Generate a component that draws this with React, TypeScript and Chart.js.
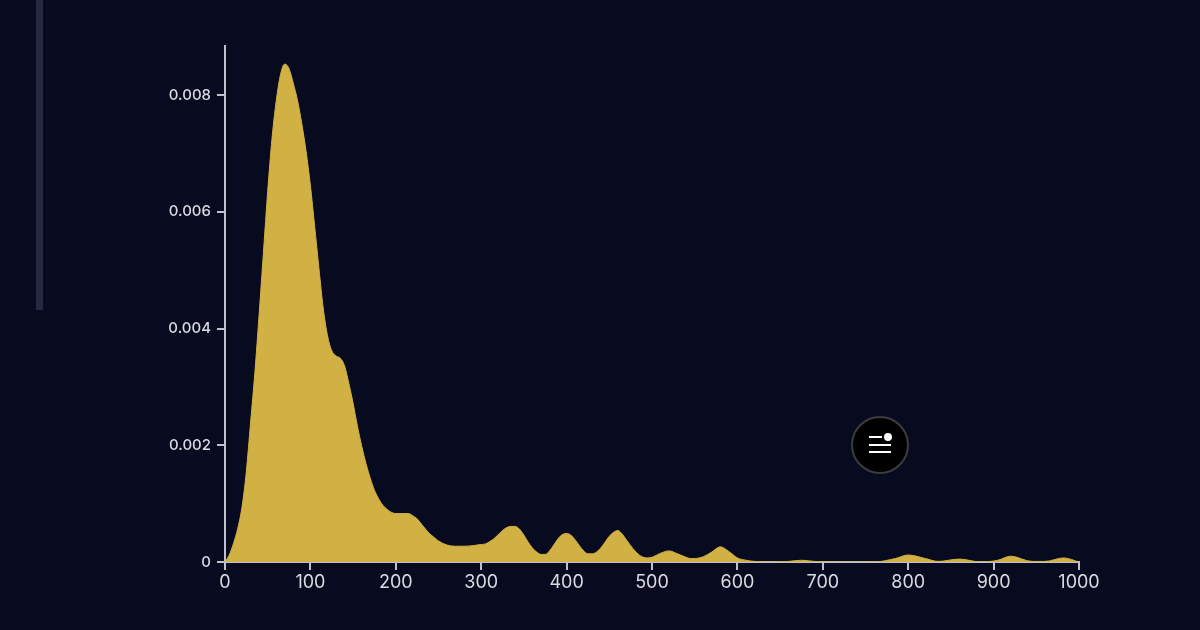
import React, { useEffect, useRef } from 'react';
import Chart from 'chart.js/auto';

const xValues = [
  0, 5, 10, 15, 20, 25, 30, 35, 40, 45, 50, 55, 60, 65, 70, 75, 80, 85, 90, 95, 100,
  105, 110, 115, 120, 125, 130, 135, 140, 145, 150, 155, 160, 165, 170, 175, 180, 185, 190, 195, 200,
  210, 215, 220, 225, 230, 235, 240, 245, 250, 260, 270, 280, 290, 300, 305, 310, 315, 320, 325, 330, 335, 340,
  345, 350, 355, 360, 365, 370, 375, 380, 385, 390, 395, 400, 405, 410, 415, 420, 425, 430, 435, 440, 445, 450,
  455, 460, 465, 470, 475, 480, 485, 490, 495, 500, 510, 520, 530, 540, 545, 550, 560, 570, 580, 590, 600, 610,
  620, 640, 660, 675, 690, 720, 760, 785, 800, 820, 835, 860, 885, 905, 920, 945, 960, 982, 1000,
];

const density = [
  0, 0.00012, 0.00032, 0.00058, 0.00095, 0.00155, 0.0024, 0.00325, 0.00425, 0.0053, 0.00635, 0.00725, 0.0079,
  0.00835, 0.00853, 0.00845, 0.0082, 0.0079, 0.0075, 0.00703, 0.00645,
  0.00575, 0.00503, 0.00435, 0.00388, 0.00362, 0.00353, 0.00349, 0.00336, 0.00306, 0.00272, 0.00233, 0.00199,
  0.00169, 0.00144, 0.00123, 0.00108, 0.00097, 0.0009, 0.00085, 0.00083,
  0.00083, 0.00083, 0.00079, 0.00074, 0.00065, 0.00056, 0.00048, 0.00042, 0.00036, 0.00029, 0.00027, 0.00027,
  0.00028, 0.0003, 0.00031, 0.00035, 0.0004, 0.00047, 0.00054, 0.00059, 0.00061, 0.00061,
  0.00056, 0.00046, 0.00034, 0.00024, 0.00017, 0.00013, 0.00013, 0.00019, 0.00029, 0.0004, 0.00047, 0.00049,
  0.00046, 0.00038, 0.00028, 0.00019, 0.00014, 0.00014, 0.00017, 0.00024, 0.00034, 0.00044,
  0.00051, 0.00054, 0.00048, 0.00038, 0.00028, 0.00019, 0.00012, 0.00008, 0.00007, 0.00008, 0.00015, 0.00019,
  0.00014, 0.00008, 0.00006, 0.00006, 0.00009, 0.00017, 0.00026, 0.00018, 0.00007, 0.00003,
  0.00001, 0, 0.00001, 0.00003, 0.00001, 0, 0, 0.00006, 0.00012, 0.00006, 0.00001, 0.00005, 0, 0.00003, 0.0001,
  0.00001, 0.00001, 0.00007, 0,
];

const xTicks = [0, 100, 200, 300, 400, 500, 600, 700, 800, 900, 1000];
const yTicks = [0, 0.002, 0.004, 0.006, 0.008];

const App: React.FC = () => {
  const chartRef = useRef<HTMLCanvasElement | null>(null);

  useEffect(() => {
    if (!chartRef.current) return;
    const chart = new Chart(chartRef.current, {
      type: 'line',
      data: {
        datasets: [
          {
            data: xValues.map((x, i) => ({ x, y: density[i] })),
            borderColor: '#d1b044',
            borderWidth: 1,
            backgroundColor: '#d1b044',
            fill: 'origin',
            pointRadius: 0,
            cubicInterpolationMode: 'monotone',
          },
        ],
      },
      options: {
        responsive: false,
        animation: false,
        layout: { padding: { top: 46, right: 121, left: 0, bottom: 0 } },
        plugins: { legend: { display: false }, tooltip: { enabled: false } },
        scales: {
          x: {
            type: 'linear',
            min: 0,
            max: 1000,
            afterBuildTicks: (axis: any) => {
              axis.ticks = xTicks.map((value) => ({ value }));
            },
            afterFit: (axis: any) => {
              axis.height = 68;
            },
            grid: { drawOnChartArea: false, color: '#bfc1cc', lineWidth: 2, tickLength: 8 },
            border: { color: '#bfc1cc', width: 2 },
            ticks: {
              color: '#d9dbe2',
              padding: 2,
              maxRotation: 0,
              autoSkip: false,
              callback: (value: any) => String(value),
              font: { family: 'Inter', size: 18 },
            },
          },
          y: {
            type: 'linear',
            min: 0,
            max: 0.00884,
            afterBuildTicks: (axis: any) => {
              axis.ticks = yTicks.map((value) => ({ value }));
            },
            afterFit: (axis: any) => {
              axis.width = 225;
            },
            grid: { drawOnChartArea: false, color: '#bfc1cc', lineWidth: 2, tickLength: 8 },
            border: { color: '#bfc1cc', width: 2 },
            ticks: {
              color: '#d9dbe2',
              padding: 6,
              callback: (value: any) => String(value),
              font: { family: 'Inter', size: 15, weight: 500 },
            },
          },
        },
      },
    });

    return () => {
      chart.destroy();
    };
  }, []);

  return (
    <div style={{ position: 'fixed', inset: 0, background: '#080a1f', overflow: 'hidden' }}>
      <div style={{ position: 'absolute', left: 36, top: 0, width: 7, height: 310, background: '#26283f' }} />
      <canvas ref={chartRef} width={1200} height={630} style={{ position: 'absolute', left: 0, top: 0, display: 'block' }} />
      <div
        style={{
          position: 'absolute',
          left: 851,
          top: 416,
          width: 58,
          height: 58,
          boxSizing: 'border-box',
          borderRadius: '50%',
          background: '#000',
          border: '2px solid #3c3c3e',
        }}
      >
        <div style={{ position: 'absolute', left: 16, top: 18, width: 13, height: 2, background: '#fff' }} />
        <div style={{ position: 'absolute', left: 16, top: 26, width: 22, height: 2, background: '#fff' }} />
        <div style={{ position: 'absolute', left: 16, top: 33, width: 22, height: 2, background: '#fff' }} />
        <div style={{ position: 'absolute', left: 31, top: 15, width: 8, height: 8, borderRadius: '50%', background: '#fff' }} />
      </div>
    </div>
  );
};

export default App;
